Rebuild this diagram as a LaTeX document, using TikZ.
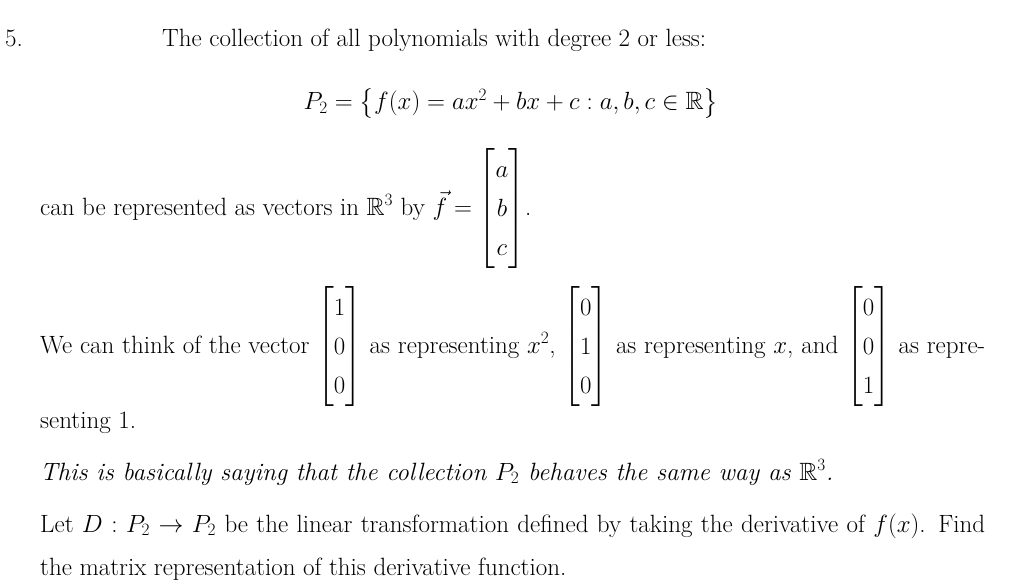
\documentclass[tikz,border=0pt]{standalone}
\usepackage{amsmath,amssymb}
\begin{document}
\begin{tikzpicture}[x=1pt,y=-1pt,
  txt/.style={anchor=base west,inner sep=0pt,font=\fontsize{25}{29}\selectfont}]
\useasboundingbox (0,0) rectangle (1024,588);
\node[txt] (num) at (5,47) {5.};
\node[txt] (l1) at (162,47) {The collection of all polynomials with degree 2 or less:};
\node[txt,anchor=base] (l2) at (511,110) {$P_2=\bigl\{f(x)=ax^2+bx+c:a,b,c\in\mathbb{R}\bigr\}$};
\node[txt] (l3) at (40,215) {can be represented as vectors in $\mathbb{R}^3$ by $\vec{f}=\renewcommand\arraystretch{1.35}\begin{bmatrix}a\\b\\c\end{bmatrix}$.};
\node[txt] (l4) at (40,353) {\makebox[945pt][s]{We can think of the vector $\renewcommand\arraystretch{1.35}\begin{bmatrix}1\\0\\0\end{bmatrix}$ as representing $x^2$, $\renewcommand\arraystretch{1.35}\begin{bmatrix}0\\1\\0\end{bmatrix}$ as representing $x$, and $\renewcommand\arraystretch{1.35}\begin{bmatrix}0\\0\\1\end{bmatrix}$ as repre-}};
\node[txt] (l5) at (40,428) {senting 1.};
\node[txt] (l6) at (40,480) {\itshape This is basically saying that the collection $P_2$ behaves the same way as $\mathbb{R}^3$.};
\node[txt] (l7) at (40,532) {\makebox[945pt][s]{Let $D:P_2\to P_2$ be the linear transformation defined by taking the derivative of $f(x)$. Find}};
\node[txt] (l8) at (40,575) {the matrix representation of this derivative function.};
\end{tikzpicture}
\end{document}
